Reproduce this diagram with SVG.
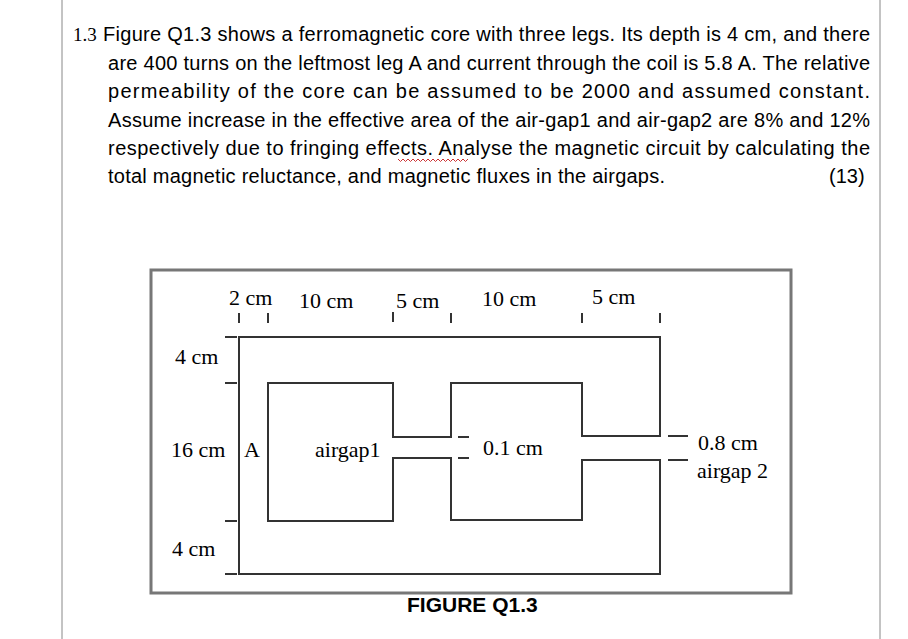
<svg xmlns="http://www.w3.org/2000/svg" width="908" height="639" viewBox="0 0 908 639">
<style>
.q{font-family:"Liberation Sans",Arial,sans-serif;font-size:20px;fill:#000}
.t{font-family:"Liberation Serif","Times New Roman",serif;font-size:22px;fill:#000}
.c{fill:none;stroke:#333;stroke-width:2}
.k{stroke:#333;stroke-width:2}
</style>
<rect width="908" height="639" fill="#fff"/>
<line x1="62" y1="0" x2="62" y2="639" stroke="#888" stroke-width="1"/>
<line x1="880" y1="0" x2="880" y2="639" stroke="#888" stroke-width="1"/>
<g id="question">
<text class="t" x="73" y="41" style="font-size:19px">1.3</text>
<text class="q" x="103" y="41" textLength="767" lengthAdjust="spacing">Figure Q1.3 shows a ferromagnetic core with three legs. Its depth is 4 cm, and there</text>
<text class="q" x="108" y="70" textLength="762" lengthAdjust="spacing">are 400 turns on the leftmost leg A and current through the coil is 5.8 A. The relative</text>
<text class="q" x="108" y="98" textLength="762" lengthAdjust="spacing">permeability of the core can be assumed to be 2000 and assumed constant.</text>
<text class="q" x="108" y="127" textLength="762" lengthAdjust="spacing">Assume increase in the effective area of the air-gap1 and air-gap2 are 8% and 12%</text>
<text class="q" x="108" y="155" textLength="762" lengthAdjust="spacing">respectively due to fringing effects. Analyse the magnetic circuit by calculating the</text>
<text class="q" x="108" y="183" textLength="557" lengthAdjust="spacing">total magnetic reluctance, and magnetic fluxes in the airgaps.</text>
<text class="q" x="829" y="183">(13)</text>
<path d="M398 159 l2.5 2.5 l2.5 -2.5 l2.5 2.5 l2.5 -2.5 l2.5 2.5 l2.5 -2.5 l2.5 2.5 l2.5 -2.5 l2.5 2.5 l2.5 -2.5 l2.5 2.5 l2.5 -2.5 l2.5 2.5 l2.5 -2.5 l2.5 2.5 l2.5 -2.5 l2.5 2.5 l2.5 -2.5 l2.5 2.5 l2.5 -2.5 l2.5 2.5 l2.5 -2.5 l2.5 2.5 l2.5 -2.5 l2.5 2.5 l2.5 -2.5 l2.5 2.5 l2.5 -2.5" fill="none" stroke="#c33" stroke-width="1"/>
</g>
<rect x="151" y="270" width="640" height="323" fill="none" stroke="#777" stroke-width="3"/>
<g id="core">
<path class="c" d="M239 337 H660 V436 H582 V383 H451 V437 H393 V383 H268 V521 H393 V458 H451 V520 H582 V460 H660 V574 H239 Z"/>
<line class="k" x1="393" y1="437" x2="451" y2="437"/>
<line class="k" x1="393" y1="458" x2="451" y2="458"/>
</g>
<g id="ticks">
<line class="k" x1="239" y1="313" x2="239" y2="323"/>
<line class="k" x1="268" y1="313" x2="268" y2="323"/>
<line class="k" x1="393" y1="312" x2="393" y2="322"/>
<line class="k" x1="451" y1="313" x2="451" y2="323"/>
<line class="k" x1="582" y1="313" x2="582" y2="323"/>
<line class="k" x1="660" y1="313" x2="660" y2="323"/>
<line class="k" x1="225" y1="337" x2="237" y2="337"/>
<line class="k" x1="225" y1="383" x2="237" y2="383"/>
<line class="k" x1="225" y1="521" x2="237" y2="521"/>
<line class="k" x1="225" y1="574" x2="237" y2="574"/>
<line class="k" x1="458" y1="437" x2="469" y2="437"/>
<line class="k" x1="458" y1="458" x2="469" y2="458"/>
<line class="k" x1="668" y1="436" x2="688" y2="436"/>
<line class="k" x1="668" y1="460" x2="688" y2="460"/>
</g>
<g id="labels">
<text class="t" x="229" y="305">2 cm</text>
<text class="t" x="299" y="308">10 cm</text>
<text class="t" x="396" y="308">5 cm</text>
<text class="t" x="482" y="306">10 cm</text>
<text class="t" x="592" y="304">5 cm</text>
<text class="t" x="175" y="364">4 cm</text>
<text class="t" x="171" y="457">16 cm</text>
<text class="t" x="244" y="457">A</text>
<text class="t" x="315" y="457">airgap1</text>
<text class="t" x="483" y="455">0.1 cm</text>
<text class="t" x="698" y="450">0.8 cm</text>
<text class="t" x="697" y="478">airgap 2</text>
<text class="t" x="172" y="556">4 cm</text>
<text class="q" x="407" y="612" style="font-weight:bold;font-size:21px">FIGURE Q1.3</text>
</g>
</svg>
